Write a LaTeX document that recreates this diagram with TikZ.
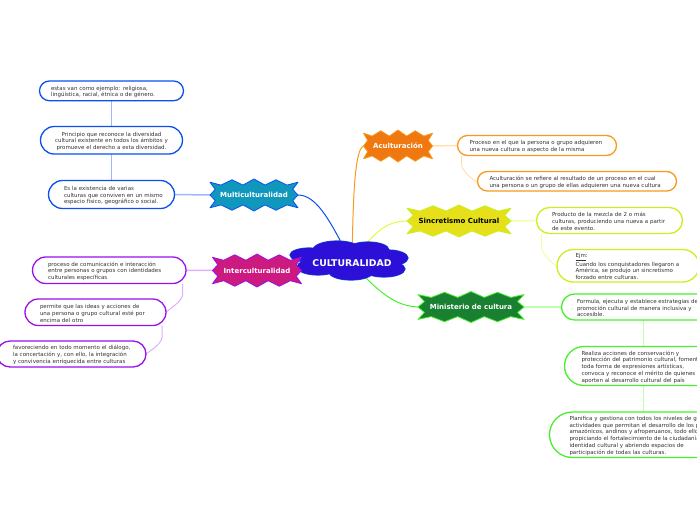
\documentclass[tikz,border=0pt]{standalone}
\usepackage{fontspec}
\setmainfont{DejaVu Sans}
\usetikzlibrary{backgrounds}
\definecolor{bluS}{HTML}{0A50F0}\definecolor{bluL}{HTML}{9DB8FF}
\definecolor{purS}{HTML}{9A10EA}\definecolor{purL}{HTML}{DDB0FF}
\definecolor{oraS}{HTML}{F79A1E}\definecolor{oraL}{HTML}{FFE0B4}
\definecolor{yelS}{HTML}{C8F020}\definecolor{yelL}{HTML}{F0FFA8}
\definecolor{grnS}{HTML}{48F02C}\definecolor{grnL}{HTML}{BCFFB0}
\definecolor{txt}{HTML}{333333}
\definecolor{multiF}{HTML}{1098BC}\definecolor{interF}{HTML}{CC1A80}
\definecolor{aculF}{HTML}{F07810}\definecolor{sincF}{HTML}{E6E01A}
\definecolor{miniF}{HTML}{188030}
\definecolor{cloudC}{HTML}{2C10D8}\definecolor{cloudS}{HTML}{0C50D0}
\tikzset{
  x=1pt,y=-1pt,
  bx/.style={draw=#1,fill=white,line width=1.3pt,inner sep=0pt,outer sep=0pt,
    font=\fontsize{5.5}{6.75}\selectfont,text=txt},
  lnk/.style={draw=#1,line width=1pt},
  lnkthick/.style={draw=#1,line width=1.5pt},
  spoke/.style={draw=#1,line width=1pt},
  bursttext/.style={inner sep=0pt,outer sep=0pt,font=\fontsize{7}{8}\selectfont\bfseries},
  cloudfill/.style={fill=cloudC},
}
\newcommand{\nw}[1]{\mbox{#1}}
% name x1 y1 x2 y2 textx align colour text
\newcommand{\boxnode}[9]{%
  \pgfmathsetmacro{\bcx}{(#2+#4)/2}\pgfmathsetmacro{\bcy}{(#3+#5)/2}%
  \pgfmathsetmacro{\bw}{#4-#2}\pgfmathsetmacro{\bh}{#5-#3}%
  \pgfmathsetmacro{\bt}{2*(\bcx-#6)}\pgfmathsetmacro{\br}{\bh/2}%
  \node[bx=#8,minimum width=\bw pt,minimum height=\bh pt,text width=\bt pt,align=#7,rounded corners=\br pt]
    (#1) at (\bcx,\bcy) {\rule{0pt}{6.2pt}#9};}
% name cx cy hw hh fill stroke textcolour text
\newcommand{\burstnode}[9]{%
  \begin{scope}[shift={(#2,#3)}]
  \draw[fill=#6,draw=#7,line width=.8pt,line join=round,x=#4 pt,y=#5 pt]
   (-1,-.8)--(-.75,-.62)--(-.5,-.95)--(-.25,-.62)--(0,-1)--(.25,-.62)--(.5,-.95)--(.75,-.62)--(1,-.8)
   --(.88,-.35)--(1,0)--(.88,.35)--(1,.8)
   --(.75,.62)--(.5,.95)--(.25,.62)--(0,1)--(-.25,.62)--(-.5,.95)--(-.75,.62)--(-1,.8)
   --(-.88,.35)--(-1,0)--(-.88,-.35)--cycle;
  \end{scope}
  \pgfmathsetmacro{\bw}{2*#4}\pgfmathsetmacro{\bh}{2*#5}%
  \node[bursttext,text=#8,minimum width=\bw pt,minimum height=\bh pt] (#1) at (#2,#3) {#9};}
\begin{document}
\begin{tikzpicture}
\useasboundingbox (0,0) rectangle (697,520);
\clip (0,0) rectangle (697,520);
% cloud
\foreach \a/\b/\c/\d in {309/255/19/7,318/267/21/8,337/250/24/9,368/250/21/8,388/258/20/8,384/269/21/8,351/272/22/8}{
  \draw[draw=cloudS,line width=1.2pt] (\a,\b) ellipse [x radius=\c,y radius=\d];}
\foreach \a/\b/\c/\d in {309/255/19/7,318/267/21/8,337/250/24/9,368/250/21/8,388/258/20/8,384/269/21/8,351/272/22/8,349/260/45/12}{
  \fill[cloudfill] (\a,\b) ellipse [x radius=\c,y radius=\d];}
\node[inner sep=0pt,outer sep=0pt,minimum width=118pt,minimum height=39pt,text=white,font=\fontsize{9.3}{10}\selectfont\bfseries] (c) at (352,263) {CULTURALIDAD};
% topics
\burstnode{multi}{254}{195}{44}{16}{multiF}{bluS}{white}{Multiculturalidad}
\burstnode{inter}{257}{270.5}{44.5}{16.5}{interF}{purS}{white}{Interculturalidad}
\burstnode{acul}{398}{146}{34.5}{16}{aculF}{oraS}{white}{Aculturación}
\burstnode{sinc}{459}{221}{52}{16}{sincF}{yelS}{black}{Sincretismo Cultural}
\burstnode{mini}{471}{307}{53}{15.5}{miniF}{grnS}{white}{Ministerio de cultura}
% left boxes
\boxnode{a1}{39.5}{81}{183.5}{100.7}{51}{left}{bluS}{estas van como ejemplo: religiosa,\\lingüística, racial, étnica o de género.}
\boxnode{a2}{40.5}{126.5}{182.5}{154}{55}{center}{bluS}{Principio que reconoce la diversidad\\cultural existente en todos los ámbitos y\\promueve el derecho a esta diversidad.}
\boxnode{a3}{48.5}{180.5}{174.5}{208.5}{64}{left}{bluS}{Es la existencia de varias\\\nw{culturas que conviven en un mismo}\\\nw{espacio físico, geográfico o social.}}
\boxnode{b1}{32.5}{257}{186}{283.5}{48}{left}{purS}{proceso de comunicación e interacción\\\nw{entre personas o grupos con identidades}\\culturales específicas}
\boxnode{b2}{25}{299}{166}{325.5}{40}{left}{purS}{permite que las ideas y acciones de\\\nw{una persona o grupo cultural esté por}\\encima del otro}
\boxnode{b3}{-3}{341}{146}{367}{13}{left}{purS}{\nw{favoreciendo en todo momento el diálogo,}\\\nw{la concertación y, con ello, la integración}\\\nw{y convivencia enriquecida entre culturas}}
% right boxes
\boxnode{c1}{457.5}{135.5}{616.5}{155.5}{469.7}{left}{oraS}{\nw{Proceso en el que la persona o grupo adquieren}\\una nueva cultura o aspecto de la misma}
\boxnode{c2}{477.5}{171.5}{676.5}{191}{489.5}{left}{oraS}{\nw{Aculturación se refiere al resultado de un proceso en el cual}\\\nw{una persona o un grupo de ellas adquieren una nueva cultura}}
\boxnode{d1}{536.5}{207.5}{682.5}{233.5}{552}{left}{yelS}{Producto de la mezcla de 2 o  más\\\nw{culturas, produciendo una nueva a partir}\\de este evento.}
\boxnode{d2}{557}{249.5}{699}{282}{575.5}{left}{yelS}{\underline{Ejm}:\\\nw{Cuando los conquistadores llegaron a}\\\nw{América, se produjo un sincretismo}\\forzado entre culturas.}
\boxnode{e1}{561.5}{294}{780}{320}{577}{left}{grnS}{Formula, ejecuta y establece estrategias de\\promoción cultural de manera inclusiva y\\accesible.}
\boxnode{e2}{564.5}{346.5}{780}{385.5}{581.5}{left}{grnS}{Realiza acciones de conservación y\\protección del patrimonio cultural, fomenta\\toda forma de expresiones artísticas,\\convoca y reconoce el mérito de quienes\\aporten al desarrollo cultural del país}
\boxnode{e3}{549.5}{412}{780}{457.5}{569.5}{left}{grnS}{Planifica y gestiona con todos los niveles de go\\actividades que permitan el desarrollo de los pu\\amazónicos, andinos y afroperuanos, todo ello\\propiciando el fortalecimiento de la ciudadanía\\identidad cultural y abriendo espacios de\\participación de todas las culturas.}
\coordinate (mcol) at (643,0);
\coordinate (bcol) at (182.7,0);
\coordinate (bcolb) at (162,0);
\coordinate (ccol) at (461.5,0);
\coordinate (dcol) at (541.5,0);
\begin{scope}[on background layer]
\draw[spoke=bluS] (multi.east) .. controls (318,195) and (332,225) .. (c.center);
\draw[spoke=purS] (inter.east) -- (c.center);
\draw[spoke=oraS] (acul.west) .. controls (354,150) and (353,205) .. (c.center);
\draw[spoke=yelS!60!yellow!80!white] (sinc.west) .. controls (385,221) and (372,234) .. (c.center);
\draw[spoke=grnS] (mini.west) .. controls (395,306) and (378,292) .. (c.center);
\draw[lnkthick=bluL] (multi.west) -- (a3.east);
\draw[lnk=bluL] (a3.north) -- (a2.south);
\draw[lnk=bluL] (a2.north) -- (a1.south);
\draw[lnkthick=purL] (inter.west) -- (b1.east);
\draw[lnk=purL] (b1.south -| bcol) -- ++(0,11) .. controls +(0,8) and +(-6,3) .. (b2.east);
\draw[lnk=purL] (b2.south -| bcolb) -- ++(0,12) .. controls +(0,8) and +(-6,3) .. (b3.east);
\draw[lnkthick=oraL] (acul.east) -- (c1.west);
\draw[lnk=oraL] (c1.south -| ccol) -- ++(0,9) .. controls +(0,8) and +(6,7) .. (c2.west);
\draw[lnkthick=yelL] (sinc.east) -- (d1.west);
\draw[lnk=yelL] (d1.south -| dcol) -- ++(0,13) .. controls +(0,10) and +(6,6) .. (d2.west);
\draw[lnkthick=grnL] (mini.east) -- (e1.west);
\draw[lnk=grnL] (e1.south -| mcol) -- (e2.north -| mcol);
\draw[lnk=grnL] (e2.south -| mcol) -- (e3.north -| mcol);
\end{scope}
\end{tikzpicture}
\end{document}
